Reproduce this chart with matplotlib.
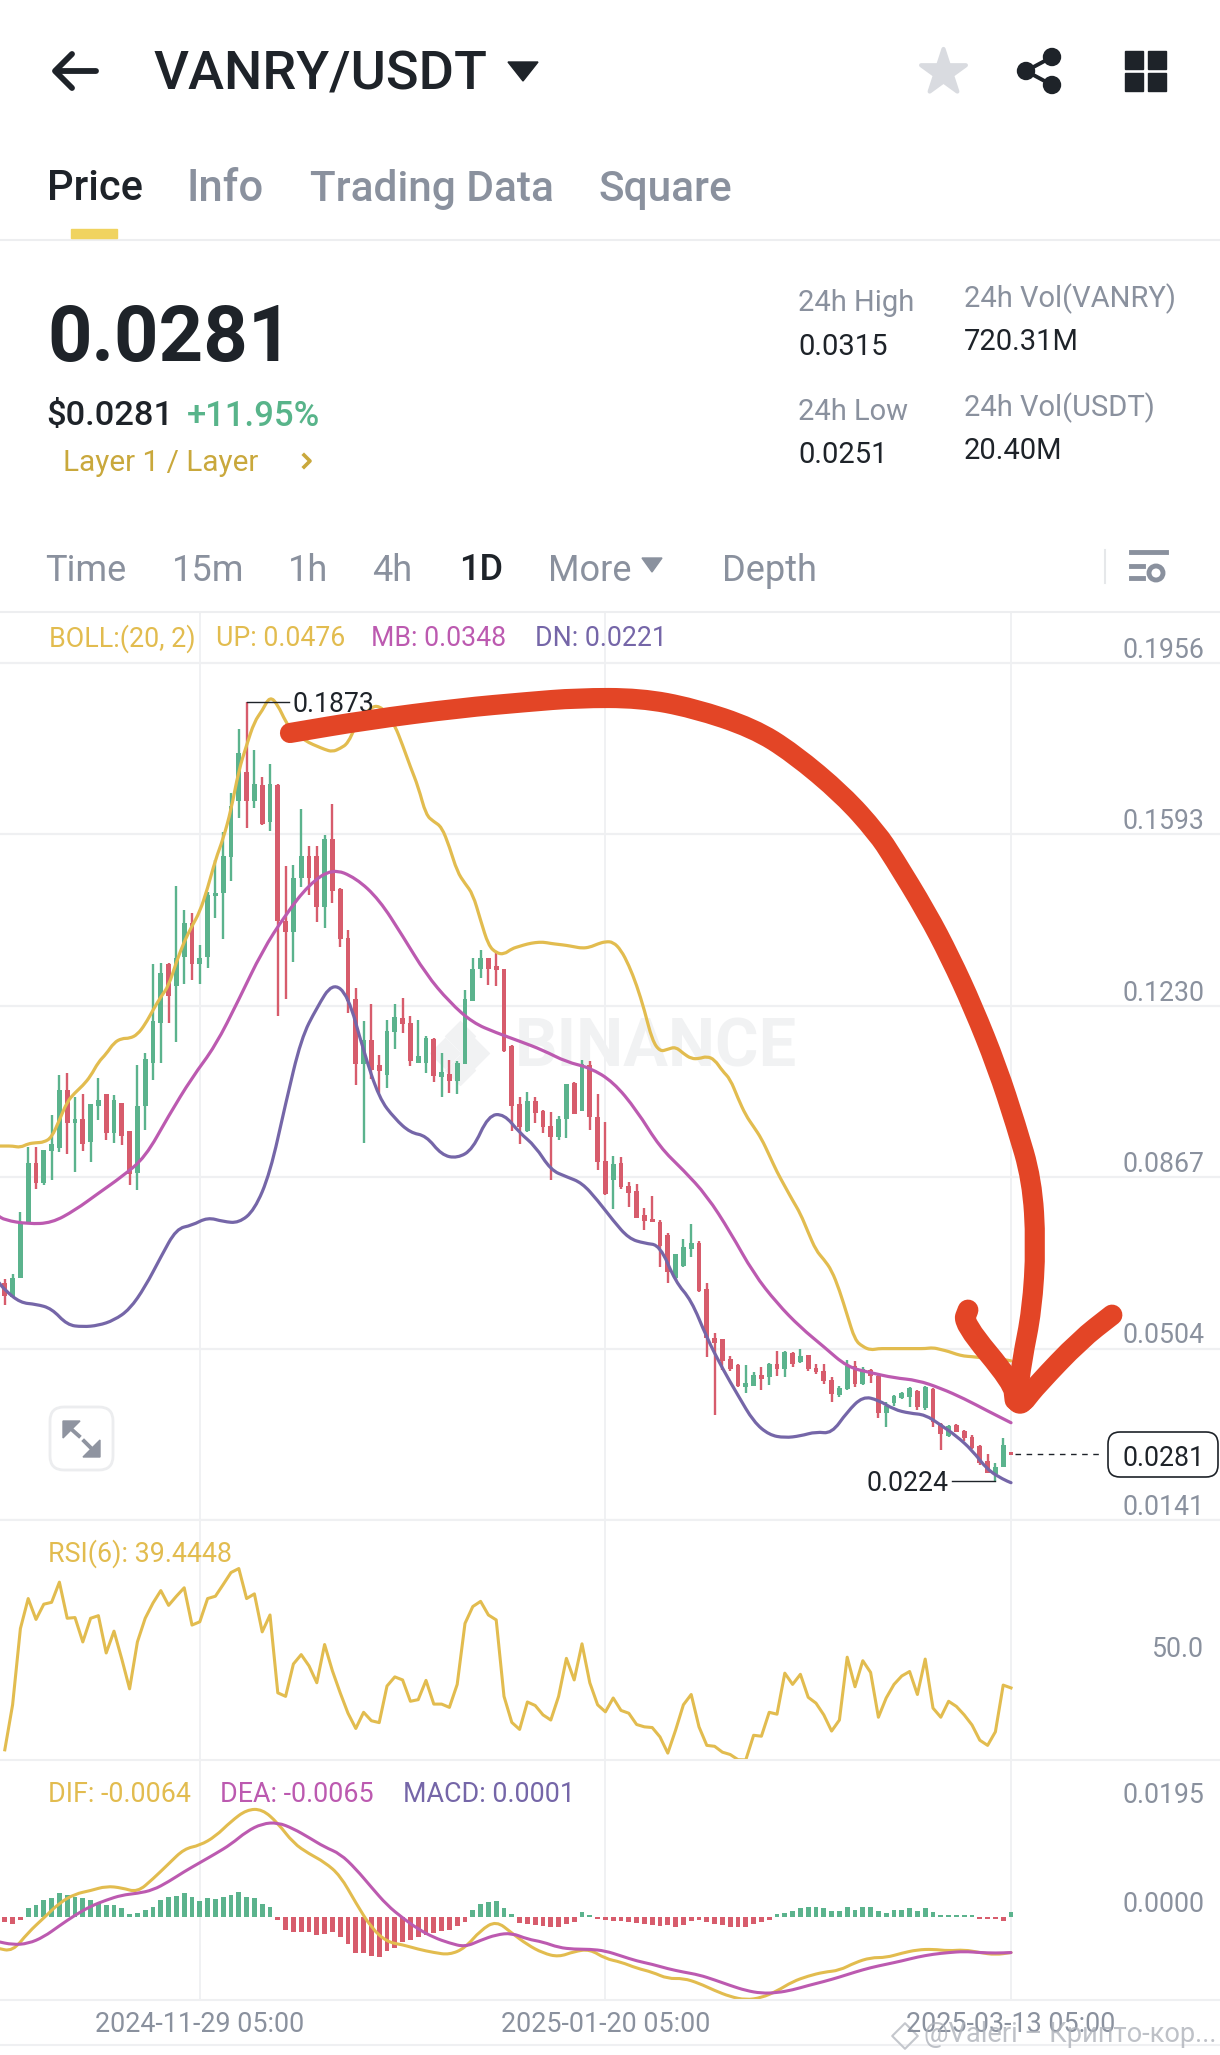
import matplotlib

matplotlib.use("Agg")
import matplotlib.pyplot as plt
import numpy as np
from matplotlib.patches import Circle, FancyBboxPatch, PathPatch, Polygon, Rectangle
from matplotlib.path import Path

WIDTH = 1220
HEIGHT = 2055

plt.rcParams["font.family"] = ["Roboto", "DejaVu Sans"]

DARK = "#1E2329"
GREY = "#8A919E"
LIGHT = "#EFF0F2"
YELLOW = "#E2BC4F"
MAGENTA = "#BC5AB0"
PURPLE = "#7566A8"
GREEN = "#5BB38D"
RED = "#D75C6C"
MARKER = "#E34526"

# daily candles, left to right
OPENS = [
    .0642, .0614, .0655, .0769, .0896, .0857, .0924, .0931, .1051, .0984, .0988, .0942, .1020, .1041, .0963, .1023,
    .0963, .0878, .1020, .1111, .1196, .1316, .1274, .1334, .1404, .1320, .1334, .1464, .1471, .1547, .1666, .1724,
    .1666, .1697, .1620, .1697, .1408, .1387, .1503, .1546, .1546, .1440, .1581, .1475, .1373, .1242, .1108, .1157,
    .1104, .1085, .1175, .1203, .1193, .1111, .1111, .1159, .1081, .1083, .1073, .1109, .1242, .1309, .1330, .1313,
    .1306, .1143, .1020, .0967, .1027, .1005, .0974, .0953, .0991, .1066, .1009, .1104, .0993, .0900, .0862, .0896,
    .0847, .0836, .0785, .0776, .0770, .0744, .0655, .0681, .0716, .0727, .0628, .0525, .0523, .0480, .0467, .0424,
    .0427, .0446, .0446, .0469, .0462, .0494, .0478, .0488, .0462, .0455, .0437, .0408, .0420, .0465, .0430, .0458,
    .0444, .0370, .0391, .0400, .0402, .0412, .0379, .0417, .0342, .0321, .0340, .0328, .0316, .0296, .0264, .0240,
    .0254, .0283,
]
CLOSES = [
    .0617, .0652, .0769, .0896, .0857, .0924, .0935, .1051, .0984, .0989, .0938, .1020, .1030, .0963, .1030, .0956,
    .0875, .1016, .1115, .1196, .1298, .1253, .1330, .1404, .1320, .1330, .1464, .1468, .1546, .1651, .1764, .1666,
    .1699, .1616, .1699, .1411, .1387, .1500, .1546, .1503, .1440, .1581, .1475, .1373, .1242, .1108, .1157, .1095,
    .1094, .1175, .1205, .1193, .1114, .1122, .1161, .1083, .1088, .1073, .1108, .1242, .1306, .1330, .1309, .1307,
    .1136, .1020, .0974, .1027, .1005, .0974, .0953, .0988, .1062, .1003, .1106, .0995, .0900, .0833, .0893, .0847,
    .0836, .0783, .0776, .0773, .0723, .0667, .0702, .0718, .0727, .0628, .0529, .0518, .0480, .0462, .0427, .0430,
    .0446, .0441, .0469, .0462, .0495, .0472, .0487, .0462, .0455, .0437, .0410, .0420, .0465, .0430, .0460, .0448,
    .0370, .0381, .0402, .0409, .0420, .0381, .0422, .0349, .0324, .0338, .0328, .0316, .0296, .0264, .0243, .0252,
    .0299, .0281,
]
HIGHS = [
    .0652, .0663, .0794, .0931, .0931, .0924, .0998, .1083, .1088, .1037, .1043, .1023, .1078, .1044, .1042, .1025,
    .0963, .1104, .1129, .1318, .1320, .1320, .1483, .1433, .1427, .1358, .1471, .1539, .1599, .1680, .1817, .1873,
    .1771, .1714, .1743, .1699, .1526, .1529, .1647, .1569, .1569, .1591, .1657, .1479, .1390, .1268, .1198, .1234,
    .1125, .1200, .1234, .1247, .1208, .1200, .1166, .1161, .1129, .1115, .1114, .1263, .1332, .1348, .1332, .1344,
    .1306, .1147, .1037, .1048, .1036, .1009, .1005, .0996, .1064, .1069, .1116, .1114, .1043, .0984, .0912, .0910,
    .0857, .0852, .0801, .0827, .0776, .0749, .0702, .0737, .0768, .0732, .0642, .0537, .0525, .0488, .0472, .0469,
    .0455, .0464, .0474, .0499, .0499, .0497, .0504, .0490, .0471, .0471, .0443, .0424, .0479, .0478, .0464, .0460,
    .0448, .0391, .0405, .0412, .0423, .0416, .0424, .0420, .0347, .0342, .0345, .0331, .0321, .0299, .0280, .0261,
    .0314, .0285,
]
LOWS = [
    .0596, .0614, .0655, .0769, .0843, .0850, .0861, .0921, .0917, .0878, .0923, .0900, .0988, .0945, .0940, .0935,
    .0850, .0840, .0967, .1073, .1108, .1193, .1154, .1277, .1284, .1277, .1311, .1416, .1371, .1495, .1628, .1606,
    .1649, .1613, .1601, .1209, .1244, .1323, .1482, .1464, .1408, .1394, .1447, .1355, .1214, .1063, .0940, .1076,
    .1046, .1055, .1138, .1173, .1102, .1109, .1088, .1069, .1037, .1046, .1043, .1108, .1242, .1288, .1274, .1272,
    .1133, .0965, .0937, .0963, .0982, .0960, .0862, .0945, .0951, .1002, .1009, .0968, .0882, .0829, .0799, .0843,
    .0804, .0780, .0755, .0773, .0676, .0643, .0650, .0677, .0698, .0624, .0487, .0364, .0458, .0457, .0422, .0409,
    .0424, .0416, .0427, .0446, .0443, .0464, .0474, .0457, .0450, .0430, .0391, .0402, .0417, .0423, .0427, .0431,
    .0358, .0337, .0382, .0398, .0381, .0375, .0375, .0338, .0290, .0316, .0328, .0309, .0292, .0257, .0240, .0224,
    .0254, .0281,
]

# bollinger bands, starting one candle left of the first visible one
BOLL_UP = [
    .0933, .0933, .0933, .0930, .0938, .0940, .0941, .0951, .0988, .1027, .1046, .1061, .1081, .1111, .1128, .1152,
    .1161, .1161, .1169, .1191, .1221, .1249, .1272, .1323, .1366, .1399, .1429, .1479, .1539, .1584, .1644, .1729,
    .1782, .1832, .1855, .1886, .1867, .1832, .1807, .1798, .1787, .1780, .1773, .1768, .1775, .1786, .1824, .1842,
    .1863, .1865, .1849, .1824, .1782, .1736, .1694, .1634, .1620, .1609, .1567, .1514, .1489, .1467, .1411, .1358,
    .1342, .1339, .1351, .1356, .1361, .1364, .1365, .1362, .1360, .1358, .1355, .1352, .1354, .1361, .1366, .1365,
    .1348, .1316, .1274, .1221, .1157, .1133, .1138, .1143, .1129, .1118, .1118, .1123, .1116, .1092, .1075, .1034,
    .0998, .0974, .0949, .0914, .0878, .0848, .0818, .0790, .0750, .0712, .0693, .0670, .0628, .0575, .0522, .0508,
    .0501, .0504, .0504, .0504, .0504, .0504, .0504, .0504, .0506, .0502, .0498, .0492, .0488, .0487, .0485, .0484,
    .0482, .0481, .0478,
]
MB_IDX = [-1] + list(range(0, 130, 3))
BOLL_MB = [
    .0787, .0776, .0768, .0770, .0797, .0833, .0868, .0909, .0997, .1078, .1145, .1243, .1346, .1423, .1487, .1521,
    .1501, .1455, .1378, .1297, .1238, .1194, .1173, .1155, .1136, .1111, .1099, .1069, .1009, .0930, .0882, .0828,
    .0751, .0663, .0600, .0549, .0508, .0465, .0453, .0442, .0437, .0420, .0398, .0372, .0347,
]
DN_IDX = [-1] + list(range(0, 130, 2)) + [129]
BOLL_DN = [
    .0649, .0628, .0601, .0598, .0589, .0554, .0550, .0553, .0564, .0587, .0635, .0698, .0758, .0765, .0782, .0773,
    .0770, .0797, .0875, .1023, .1161, .1226, .1279, .1253, .1134, .1034, .0991, .0961, .0955, .0914, .0907, .0926,
    .0998, .1001, .0961, .0933, .0882, .0868, .0855, .0818, .0775, .0737, .0727, .0723, .0645, .0607, .0527, .0462,
    .0405, .0349, .0321, .0315, .0319, .0328, .0324, .0370, .0403, .0395, .0375, .0367, .0364, .0342, .0319, .0289,
    .0247, .0227, .0220,
]

RSI6 = [
    13.0, 32.2, 64.7, 77.5, 68.6, 75.1, 75.9, 84.5, 69.1, 69.4, 59.0, 69.1, 70.2, 54.3, 63.6, 51.7, 39.0, 59.0, 69.1,
    75.6, 80.9, 74.6, 78.5, 82.1, 66.2, 67.6, 77.5, 78.5, 83.5, 88.6, 90.3, 77.5, 79.5, 63.3, 70.5, 37.3, 35.8, 49.6,
    53.6, 48.8, 41.6, 57.9, 46.7, 37.3, 28.6, 22.1, 29.0, 25.4, 24.6, 40.2, 44.1, 42.8, 33.7, 34.4, 42.6, 32.5, 32.5,
    31.1, 40.9, 66.9, 74.1, 76.3, 70.5, 68.4, 35.8, 24.7, 21.7, 33.4, 31.9, 27.9, 25.7, 35.8, 52.0, 42.8, 58.2, 41.6,
    32.2, 29.2, 35.1, 29.8, 28.6, 23.8, 22.8, 22.5, 18.5, 11.6, 21.4, 32.2, 36.6, 22.8, 14.9, 14.5, 12.0, 11.0, 8.8,
    8.7, 19.2, 18.8, 29.0, 28.2, 45.7, 40.9, 45.2, 35.4, 32.9, 27.9, 21.0, 25.7, 52.5, 39.9, 51.0, 46.0, 26.9, 35.1,
    40.9, 44.5, 46.4, 36.6, 51.7, 30.8, 26.9, 33.7, 31.5, 27.9, 23.6, 17.1, 14.9, 20.7, 40.6, 39.4,
]

MACD_IDX = list(range(-1, 130, 2))
DIF = [
    -.0056, -.0062, -.0028, -.0002, .0025, .0041, .0047, .0055, .0052, .0044, .0068, .0095, .0122, .0128, .0144,
    .0171, .0192, .0193, .0168, .0132, .0113, .0098, .0074, .0025, -.0020, -.0045, -.0050, -.0058, -.0064, -.0068,
    -.0056, -.0024, -.0007, -.0029, -.0050, -.0065, -.0072, -.0062, -.0058, -.0075, -.0081, -.0092, -.0099, -.0111,
    -.0110, -.0119, -.0132, -.0143, -.0149, -.0145, -.0133, -.0116, -.0106, -.0099, -.0096, -.0082, -.0073, -.0073,
    -.0065, -.0059, -.0058, -.0061, -.0059, -.0064, -.0068, -.0064,
]
DEA = [
    -.0044, -.0050, -.0048, -.0036, -.0016, .0003, .0019, .0030, .0039, .0042, .0048, .0063, .0081, .0097, .0113,
    .0130, .0153, .0167, .0169, .0158, .0142, .0125, .0113, .0086, .0053, .0021, -.0002, -.0022, -.0037, -.0047,
    -.0054, -.0042, -.0032, -.0029, -.0040, -.0045, -.0055, -.0058, -.0058, -.0061, -.0070, -.0079, -.0085, -.0093,
    -.0099, -.0104, -.0113, -.0123, -.0132, -.0137, -.0136, -.0131, -.0123, -.0116, -.0108, -.0099, -.0091, -.0085,
    -.0079, -.0072, -.0067, -.0064, -.0062, -.0064, -.0065, -.0064,
]
MACD_HIST = [
    -.0010, -.0012, -.0005, .0015, .0021, .0030, .0033, .0042, .0039, .0035, .0033, .0030, .0024, .0022, .0021, .0015,
    .0005, .0007, .0012, .0018, .0030, .0035, .0038, .0042, .0036, .0029, .0033, .0032, .0035, .0039, .0044, .0036,
    .0033, .0023, .0018, -.0005, -.0023, -.0027, -.0028, -.0027, -.0033, -.0030, -.0028, -.0036, -.0048, -.0064,
    -.0064, -.0070, -.0072, -.0061, -.0055, -.0045, -.0041, -.0036, -.0032, -.0029, -.0025, -.0023, -.0017, -.0009,
    .0013, .0023, .0027, .0029, .0015, .0005, -.0011, -.0012, -.0015, -.0017, -.0018, -.0019, -.0012, -.0009, .0009,
    .0004, -.0003, -.0005, -.0007, -.0008, -.0009, -.0011, -.0012, -.0015, -.0017, -.0015, -.0018, -.0015, -.0007,
    -.0005, -.0009, -.0013, -.0015, -.0019, -.0018, -.0018, -.0013, -.0009, -.0006, .0005, .0007, .0011, .0015, .0017,
    .0018, .0015, .0011, .0011, .0018, .0013, .0018, .0017, .0011, .0007, .0012, .0013, .0015, .0011, .0015, .0009,
    .0003, .0003, .0003, .0003, .0003, -.0003, -.0003, -.0003, -.0007, .0008,
]

PRICE_TICKS = [0.1956, 0.1593, 0.1230, 0.0867, 0.0504, 0.0141]
DATE_POS = [25, 77, 129]
DATE_LABELS = ["2024-11-29 05:00", "2025-01-20 05:00", "2025-03-13 05:00"]
LAST_PRICE = 0.0281
HIGH_PRICE = 0.1873
LOW_PRICE = 0.0224

# hand drawn marker on top of the screenshot, in image pixels
ARROW_X = [290, 367, 460, 527, 577, 640, 693, 753, 793, 843, 877, 893, 927, 950, 973, 997, 1016, 1032, 1036, 1032, 1022, 1017]
ARROW_Y = [733, 720, 708, 702, 698, 698, 708, 728, 753, 795, 833, 857, 913, 957, 1007, 1067, 1125, 1180, 1245, 1310, 1360, 1400]
BARB_L_X = [968, 963, 1013, 1015]
BARB_L_Y = [1310, 1323, 1383, 1400]
BARB_R_X = [1112, 1080, 1037, 1025]
BARB_R_Y = [1315, 1340, 1385, 1400]

XLIM = (-4.8 / 7.8, (WIDTH - 4.8) / 7.8)


def pane(top, bottom):
    ax = fig.add_axes([0, 1 - bottom / HEIGHT, 1, (bottom - top) / HEIGHT])
    ax.set_xlim(*XLIM)
    ax.axis("off")
    return ax


def right_label(ax, text, value, offset=9.2):
    ax.annotate(
        text,
        xy=(1204 / WIDTH, value),
        xycoords=("axes fraction", "data"),
        xytext=(0, offset),
        textcoords="offset points",
        ha="right",
        va="center",
        color=GREY,
        fontsize=19.2,
    )


def smooth_line(ax, xs, ys, color, lw, zorder=3):
    # quadratic segments through the midpoints, keeps the sampled lines from looking kinked
    pts = np.column_stack([xs, ys])
    mids = (pts[:-1] + pts[1:]) / 2
    verts = [pts[0], mids[0]]
    codes = [Path.MOVETO, Path.LINETO]
    for ctrl, mid in zip(pts[1:-1], mids[1:]):
        verts += [ctrl, mid]
        codes += [Path.CURVE3, Path.CURVE3]
    verts.append(pts[-1])
    codes.append(Path.LINETO)
    patch = PathPatch(Path(verts, codes), fill=False, ec=color, lw=lw, capstyle="round", joinstyle="round", zorder=zorder)
    ax.add_patch(patch)


fig = plt.figure(figsize=(WIDTH / 100, HEIGHT / 100), dpi=100, facecolor="white")

# price pane
ax_price = pane(612, 1520)
ax_price.set_ylim(0.0141, 0.2064)
for tick in PRICE_TICKS:
    ax_price.axhline(tick, color=LIGHT, lw=1.6, zorder=0)
    right_label(ax_price, f"{tick:.4f}", tick)
for pos in DATE_POS:
    ax_price.axvline(pos, color=LIGHT, lw=1.3, zorder=0)

# faint exchange watermark
ax_price.text(83.4, 0.1140, "BINANCE", ha="center", va="center", fontsize=48, fontweight="bold", color="#F1F2F3", zorder=0)
ax_price.scatter([58.3, 60.2, 58.3, 56.4], [0.1165, 0.1130, 0.1095, 0.1130], marker="D", s=230, color="#F1F2F3", zorder=0)

idx = np.arange(len(OPENS))
opens = np.array(OPENS)
closes = np.array(CLOSES)
colors = [GREEN if c >= o else RED for o, c in zip(opens, closes)]
ax_price.vlines(idx, LOWS, HIGHS, colors=colors, lw=1.7, zorder=2)
ax_price.bar(idx, np.abs(closes - opens) + 0.0003, bottom=np.minimum(opens, closes) - 0.00015, width=0.6, color=colors, zorder=2)

smooth_line(ax_price, np.arange(-1, 130), BOLL_UP, YELLOW, 2.3)
smooth_line(ax_price, MB_IDX, BOLL_MB, MAGENTA, 2.3)
smooth_line(ax_price, DN_IDX, BOLL_DN, PURPLE, 2.3)

ax_price.plot([31, 36.4], [HIGH_PRICE, HIGH_PRICE], color=DARK, lw=1, zorder=4)
ax_price.annotate(f"{HIGH_PRICE:.4f}", (36.9, HIGH_PRICE), xytext=(0, -2), textcoords="offset points", color=DARK, fontsize=19.2, va="center", zorder=4)
ax_price.plot([121.4, 127], [LOW_PRICE, LOW_PRICE], color=DARK, lw=1, zorder=4)
ax_price.annotate(f"{LOW_PRICE:.4f}", (121.0, LOW_PRICE), xytext=(0, -2), textcoords="offset points", color=DARK, fontsize=19.2, va="center", ha="right", zorder=4)
ax_price.plot([129.5, 140.8], [LAST_PRICE, LAST_PRICE], color=DARK, lw=1, ls=(0, (4, 4)), zorder=4)

# rsi pane
ax_rsi = pane(1520, 1760)
ax_rsi.set_ylim(8.66, 111)
for pos in DATE_POS:
    ax_rsi.axvline(pos, color=LIGHT, lw=1.3, zorder=0)
ax_rsi.plot(idx, RSI6, color=YELLOW, lw=2.2)
right_label(ax_rsi, "50.0", 50, offset=10)

# macd pane
ax_macd = pane(1760, 2000)
ax_macd.set_ylim(-0.0149, 0.0281)
for pos in DATE_POS:
    ax_macd.axvline(pos, color=LIGHT, lw=1.3, zorder=0)
hist_colors = [GREEN if v >= 0 else RED for v in MACD_HIST]
ax_macd.bar(idx, MACD_HIST, width=0.62, color=hist_colors, zorder=2)
smooth_line(ax_macd, MACD_IDX, DIF, YELLOW, 2.2)
smooth_line(ax_macd, MACD_IDX, DEA, MAGENTA, 2.2)
right_label(ax_macd, "0.0195", 0.0195)
right_label(ax_macd, "0.0000", 0.0)

# everything else is placed in image pixels
ui = fig.add_axes([0, 0, 1, 1], zorder=10)
ui.set_xlim(0, WIDTH)
ui.set_ylim(HEIGHT, 0)
ui.axis("off")
ui.patch.set_alpha(0)


def label(x, y, text, color=GREY, size=20, weight="normal", ha="left"):
    ui.text(x, y + 3, text, color=color, fontsize=size, fontweight=weight, ha=ha, va="center")


# separators
for y, c in [(240, "#EDEEF0"), (612, "#EDEEF0"), (1520, LIGHT), (1760, LIGHT), (2000, LIGHT), (2045, LIGHT)]:
    ui.plot([0, WIDTH], [y, y], color=c, lw=1.5, zorder=0)

# header
ui.plot([56, 96], [71, 71], color=DARK, lw=4.2, solid_capstyle="round")
ui.plot([72, 55, 72], [54, 71, 88], color=DARK, lw=4.2, solid_capstyle="round", solid_joinstyle="round")
label(154, 72, "VANRY/USDT", DARK, 39, "medium")
ui.add_patch(Polygon([(508, 62), (538, 62), (523, 81)], closed=True, color=DARK))
ui.scatter([943], [72], marker="*", s=1150, color="#D9DBE0", edgecolor="#D9DBE0", linewidths=3)
for cx, cy in [(1052, 57), (1026, 71), (1052, 85)]:
    ui.add_patch(Circle((cx, cy), 8.5, color=DARK))
ui.plot([1052, 1026, 1052], [57, 71, 85], color=DARK, lw=2.8)
for x0 in (1125, 1148):
    for y0 in (51, 73):
        ui.add_patch(Rectangle((x0, y0), 17.5, 17.5, color=DARK))

# tabs
label(47, 186, "Price", DARK, 30, "medium")
label(187, 186, "Info", GREY, 31.5, "medium")
label(310, 186, "Trading Data", GREY, 30.5, "medium")
label(598, 186, "Square", GREY, 30.5, "medium")
ui.add_patch(Rectangle((71, 229), 46, 9, color="#F0D35F"))

# ticker block
label(47, 337, "0.0281", DARK, 56, "bold")
label(46, 413, "$0.0281", DARK, 24.8, "medium")
label(187, 413, "+11.95%", "#58B48A", 25, "medium")
label(63, 460, "Layer 1 / Layer", "#C9A83C", 21.4)
ui.plot([304, 310, 304], [455, 461, 467], color="#C9A83C", lw=2.6)
label(798, 300, "24h High", GREY, 21)
label(798, 344, "0.0315", DARK, 21)
label(798, 409, "24h Low", GREY, 21)
label(798, 452, "0.0251", DARK, 21)
label(964, 296, "24h Vol(VANRY)", GREY, 21)
label(964, 339, "720.31M", DARK, 21)
label(964, 405, "24h Vol(USDT)", GREY, 21)
label(964, 448, "20.40M", DARK, 21)

# interval row
label(45, 568, "Time", GREY, 26)
label(172, 568, "15m", GREY, 26)
label(288, 568, "1h", GREY, 26)
label(372, 568, "4h", GREY, 26)
label(459, 568, "1D", DARK, 26, "medium")
label(548, 568, "More", GREY, 26)
ui.add_patch(Polygon([(642, 558), (662, 558), (652, 572)], closed=True, color=GREY))
label(722, 568, "Depth", GREY, 26)
ui.plot([1105, 1105], [550, 583], color="#E6E8EA", lw=1.5)
ui.plot([1131, 1166], [552, 552], color=GREY, lw=3.5)
ui.plot([1131, 1143], [566, 566], color=GREY, lw=3.5)
ui.plot([1131, 1143], [578, 578], color=GREY, lw=3.5)
ui.add_patch(Circle((1156, 573), 7, fill=False, ec=GREY, lw=3.5))

# indicator captions
label(49, 636, "BOLL:(20, 2)", YELLOW, 19.4)
label(216, 636, "UP: 0.0476", YELLOW, 19.2)
label(371, 636, "MB: 0.0348", MAGENTA, 19.2)
label(535, 636, "DN: 0.0221", PURPLE, 19.2)
label(48, 1551, "RSI(6): 39.4448", YELLOW, 19.4)
label(48, 1792, "DIF: -0.0064", YELLOW, 19.4)
label(220, 1792, "DEA: -0.0065", MAGENTA, 19.4)
label(403, 1792, "MACD: 0.0001", PURPLE, 19.4)

# date labels
for pos, text in zip(DATE_POS, DATE_LABELS):
    label(4.8 + 7.8 * pos, 2022, text, GREY, 19.4, ha="center")

# screenshot source stamp
ui.text(924, 2035, "@Valeri – Крипто-кор...", color="#AEB2BA", fontsize=19.6, va="center", alpha=0.8)
ui.scatter([905], [2036], marker="D", s=170, facecolor="none", edgecolor="#C4C7CD", linewidth=1.5)

# last price box and expand button
ui.add_patch(FancyBboxPatch((1108, 1432), 110, 45, boxstyle="round,pad=0,rounding_size=12", fc="white", ec=DARK, lw=1.2))
label(1163, 1456, f"{LAST_PRICE:.4f}", DARK, 19.2, ha="center")
ui.add_patch(FancyBboxPatch((50, 1407), 63, 63, boxstyle="round,pad=0,rounding_size=14", fc="white", ec="#ECEDEF", lw=2))
ui.add_patch(Polygon([(63, 1421), (80, 1421), (63, 1438)], closed=True, color="#8F94A0"))
ui.add_patch(Polygon([(100, 1457), (83, 1457), (100, 1440)], closed=True, color="#8F94A0"))
ui.plot([70, 79], [1428, 1436], color="#8F94A0", lw=2.8)
ui.plot([84, 93], [1441, 1450], color="#8F94A0", lw=2.8)

# red marker
smooth_line(ui, ARROW_X, ARROW_Y, MARKER, 14.5, zorder=8)
smooth_line(ui, BARB_L_X, BARB_L_Y, MARKER, 15, zorder=8)
smooth_line(ui, BARB_R_X, BARB_R_Y, MARKER, 15, zorder=8)
ui.add_patch(Circle((1020, 1400), 13, color=MARKER, zorder=8))

fig.savefig("out.png", dpi=100)
